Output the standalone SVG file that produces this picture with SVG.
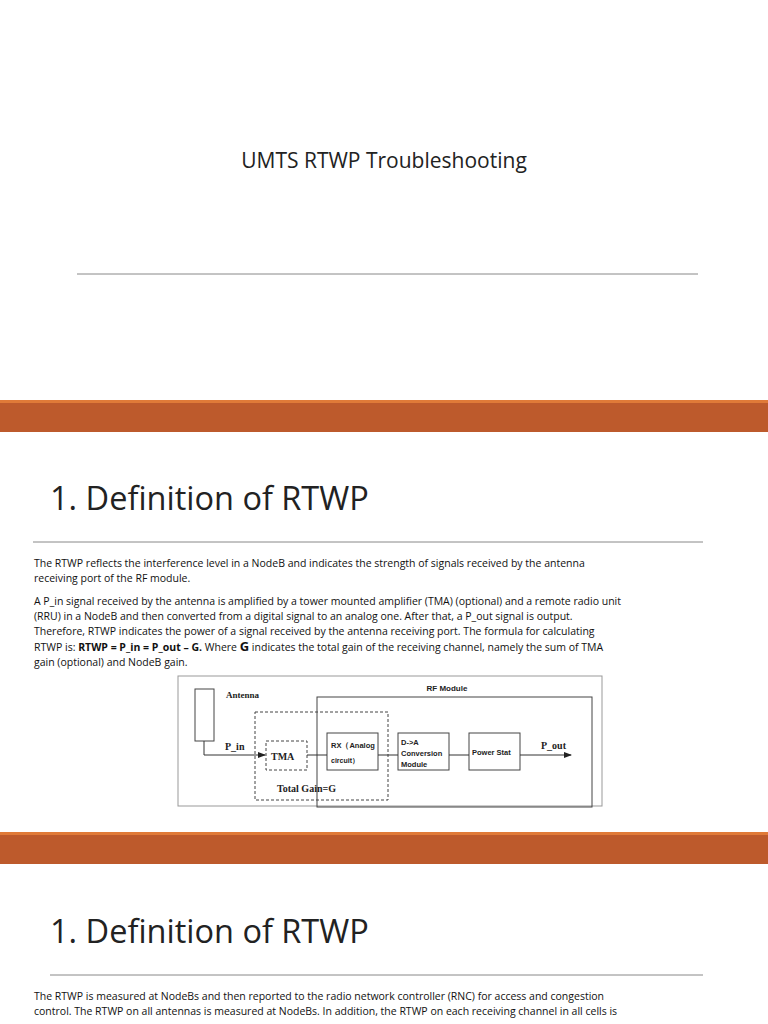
<svg xmlns="http://www.w3.org/2000/svg" width="768" height="1024" viewBox="0 0 768 1024">
<style>
.t{font-family:"Liberation Sans",Arial,sans-serif;fill:#222}
.b{font-family:"Open Sans","Liberation Sans",sans-serif;fill:#222}
.s{font-family:"Liberation Serif",serif;fill:#222;font-weight:bold}
.box{fill:#fff;stroke:#444;stroke-width:1}
.d{fill:none;stroke:#444;stroke-width:1;stroke-dasharray:3,2}
.band{fill:#BD5A2C}
.body{font-family:"Open Sans","Liberation Sans",sans-serif;font-size:10.5px;fill:#111}
</style>
<defs><marker id="ah" markerWidth="8" markerHeight="6" refX="7" refY="3" orient="auto"><path d="M0,0L8,3L0,6z" fill="#222"/></marker></defs>
<rect width="768" height="1024" fill="#fff"/>
<text x="384" y="168" text-anchor="middle" class="b" font-size="21">UMTS RTWP Troubleshooting</text>
<line x1="77" y1="274" x2="698" y2="274" stroke="#888"/>
<rect class="band" x="0" y="400" width="768" height="32"/>
<rect x="0" y="400" width="768" height="3" fill="#E07A38"/>
<text x="50" y="510" class="b" font-size="32.5">1. Definition of RTWP</text>
<line x1="33" y1="542" x2="703" y2="542" stroke="#888"/>
<text class="body"><tspan x="34" y="567">The RTWP reflects the interference level in a NodeB and indicates the strength of signals received by the antenna</tspan><tspan x="34" y="582">receiving port of the RF module.</tspan>
<tspan x="34" y="605">A P_in signal received by the antenna is amplified by a tower mounted amplifier (TMA) (optional) and a remote radio unit</tspan><tspan x="34" y="620">(RRU) in a NodeB and then converted from a digital signal to an analog one. After that, a P_out signal is output.</tspan><tspan x="34" y="635">Therefore, RTWP indicates the power of a signal received by the antenna receiving port. The formula for calculating</tspan><tspan x="34" y="651">RTWP is:  <tspan font-weight="bold">RTWP = P_in = P_out – G.</tspan>  Where <tspan font-weight="bold" font-size="13">G</tspan> indicates the total gain of the receiving channel, namely the sum of TMA</tspan><tspan x="34" y="666">gain (optional) and NodeB gain.</tspan></text>
<g id="figure">
<rect x="178" y="676" width="424" height="130" fill="#fff" stroke="#999"/>
</g>
<g id="antenna"><rect class="box" x="195" y="689" width="19" height="52"/><text x="226" y="698" class="s" font-size="9">Antenna</text></g>
<g id="rfmodule"><rect class="box" x="317" y="697" width="275" height="110" style="fill:none"/><text x="447" y="691" text-anchor="middle" class="t" font-size="8" font-weight="bold">RF Module</text></g>
<g id="gain"><rect class="d" x="255" y="712" width="133" height="88"/><text x="277" y="792" class="s" font-size="10">Total Gain=G</text></g>
<g id="tma"><rect class="d" x="266" y="741" width="41" height="29"/><text x="271" y="760" class="s" font-size="10">TMA</text></g>
<g id="rx"><rect class="box" x="327" y="733" width="51" height="37"/><text x="331" y="748" class="t" font-size="7.5" font-weight="bold">RX（Analog</text><text x="331" y="763" class="t" font-size="7" font-weight="bold">circuit）</text></g>
<g id="da"><rect class="box" x="398" y="733" width="51" height="37"/><text x="401" y="745" class="t" font-size="7.5" font-weight="bold">D-&gt;A</text><text x="401" y="756" class="t" font-size="7.5" font-weight="bold">Conversion</text><text x="401" y="767" class="t" font-size="7.5" font-weight="bold">Module</text></g>
<g id="power"><rect class="box" x="469" y="733" width="51" height="37"/><text x="472" y="755" class="t" font-size="7.5" font-weight="bold">Power Stat</text></g>
<g id="connectors" stroke="#333" fill="none">
<polyline points="204,741 204,755 265,755" marker-end="url(#ah)"/>
<line x1="307" y1="755" x2="327" y2="755"/>
<line x1="378" y1="755" x2="398" y2="755"/>
<line x1="449" y1="755" x2="469" y2="755"/>
<line x1="520" y1="755" x2="571" y2="755" marker-end="url(#ah)"/>
</g>
<text x="225" y="750" class="s" font-size="10">P_in</text>
<text x="541" y="749" class="s" font-size="10">P_out</text>
<rect class="band" x="0" y="832" width="768" height="32"/>
<rect x="0" y="832" width="768" height="3" fill="#E07A38"/>
<text x="50" y="943" class="b" font-size="32.5">1. Definition of RTWP</text>
<line x1="50" y1="975" x2="703" y2="975" stroke="#888"/>
<text class="body"><tspan x="34" y="1000">The RTWP is measured at NodeBs and then reported to the radio network controller (RNC) for access and congestion</tspan><tspan x="34" y="1015">control. The RTWP on all antennas is measured at NodeBs. In addition, the RTWP on each receiving channel in all cells is</tspan></text>
</svg>
